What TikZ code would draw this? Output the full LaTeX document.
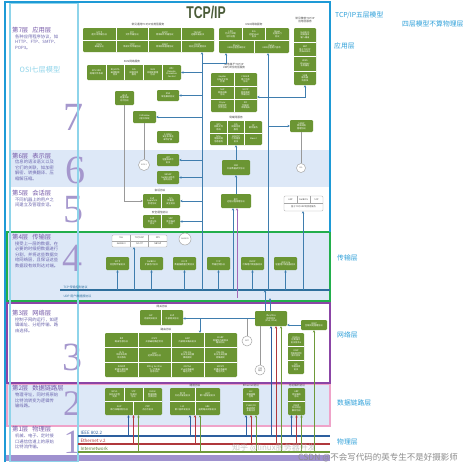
\documentclass[tikz,border=0pt]{standalone}
\usepackage{fontspec}
\usepackage{graphicx}
\setmainfont{Noto Sans CJK SC}
\newfontfamily\numfont{Liberation Serif}
\newfontfamily\titlefont{Liberation Sans}
\usetikzlibrary{arrows.meta}
\definecolor{gbx}{HTML}{6B9533}
\definecolor{lband}{HTML}{DDE8F7}
\definecolor{bluebd}{HTML}{1E9AD6}
\definecolor{osic}{HTML}{8ED4EA}
\definecolor{greenbd}{HTML}{22AE4C}
\definecolor{purplebd}{HTML}{8B45A6}
\definecolor{pinkbd}{HTML}{EFA3C9}
\definecolor{barc}{HTML}{9F91CF}
\definecolor{numc}{HTML}{A597CD}
\definecolor{ltitle}{HTML}{7558A8}
\definecolor{lbody}{HTML}{6C66AE}
\definecolor{rlab}{HTML}{2C9FD9}
\definecolor{connc}{HTML}{3F7DAE}
\definecolor{tcpc}{HTML}{2E6E9C}
\definecolor{physb}{HTML}{2D5F9E}
\definecolor{physr}{HTML}{B0383C}
\definecolor{physg}{HTML}{6E9A3A}
\definecolor{circd}{HTML}{A8A8A8}
\definecolor{titc}{HTML}{4B5C39}
\def\celltc{white}
\def\celllc{white}
\newcommand\gbox[5]{\node[gboxst, minimum width={(#4-#2)*1pt}, minimum height={(#5-#3)*1pt}] (#1) at ({(#2+#4)/2},{(#3+#5)/2}) {};}
\newcommand\wbox[5]{\node[wboxst, minimum width={(#4-#2)*1pt}, minimum height={(#5-#3)*1pt}] (#1) at ({(#2+#4)/2},{(#3+#5)/2}) {};}
\newcommand\cells[8]{%
  \pgfmathsetmacro\cwid{(#4-#2)/#6}%
  \pgfmathsetmacro\chgt{(#5-#3)/#7}%
  \pgfmathtruncatemacro\ncm{#6-1}%
  \pgfmathtruncatemacro\nrm{#7-1}%
  \ifnum\ncm>0
    \foreach \cI in {1,...,\ncm}{\draw[cellline] ({#2+\cI*\cwid},#3) -- ({#2+\cI*\cwid},#5);}%
  \fi
  \ifnum\nrm>0
    \foreach \rI in {1,...,\nrm}{\draw[cellline] (#2,{#3+\rI*\chgt}) -- (#4,{#3+\rI*\chgt});}%
  \fi
  \pgfmathsetmacro\twid{\cwid-0.8}%
  \foreach \tx [count=\kI from 0] in {#8}{%
    \pgfmathtruncatemacro\cCol{mod(\kI,#6)}%
    \pgfmathtruncatemacro\rRow{div(\kI,#6)}%
    \node[celltxt, text width=\twid pt] (#1-\kI) at ({#2+(\cCol+0.5)*\cwid},{#3+(\rRow+0.5)*\chgt}) {\tx};%
  }%
}
\begin{document}
\begin{tikzpicture}[x=1pt,y=-1pt,
 gboxst/.style={fill=gbx, rounded corners=1.2pt, inner sep=0pt, outer sep=0pt},
 wboxst/.style={fill=white, draw=circd, line width=0.4pt, rounded corners=1.2pt, inner sep=0pt, outer sep=0pt},
 celltxt/.style={text=\celltc, font=\fontsize{2.2}{2.5}\selectfont, align=center, inner sep=0pt},
 cellline/.style={draw=\celllc, line width=0.35pt},
 grp/.style={font=\fontsize{2.7}{3.1}\selectfont, text=black!75, inner sep=0pt, align=center},
 circ/.style={circle, draw=circd, fill=white, line width=0.5pt, inner sep=0pt, font=\fontsize{2}{2.3}\selectfont, text=black!60, align=center},
 conn/.style={draw=connc, line width=0.7pt, -{Stealth[length=2.6pt,width=2.4pt]}},
 gline/.style={draw=black!40, line width=0.5pt},
 ltit/.style={anchor=west, text=ltitle, font=\fontsize{6.3}{7}\selectfont, inner sep=0pt},
 lbod/.style={anchor=north west, text=lbody, font=\fontsize{4.3}{5.5}\selectfont, align=left, inner sep=0pt},
 bignum/.style={text=numc, font=\numfont\fontsize{40}{40}\selectfont, inner sep=0pt},
 rl/.style={anchor=west, text=rlab, font=\fontsize{6.8}{7.5}\selectfont, inner sep=0pt},
 physl/.style={anchor=south west, font=\fontsize{4.5}{5}\selectfont, inner sep=0.3pt},
 tcpl/.style={anchor=south west, font=\fontsize{3}{3.5}\selectfont, text=tcpc, inner sep=0.3pt},
 upB/.style={draw=physb, line width=0.9pt, -{Stealth[length=2.6pt,width=2.4pt]}},
 upR/.style={draw=physr, line width=0.9pt, -{Stealth[length=2.6pt,width=2.4pt]}},
 upG/.style={draw=physg, line width=0.9pt, -{Stealth[length=2.6pt,width=2.4pt]}}
]
\useasboundingbox (0,0) rectangle (474,469);
\fill[white] (0,0) rectangle (474,469);
% ---------- bands ----------
\fill[lband] (10,150) rectangle (330,187);
\draw[greenbd, line width=2pt, fill=lband] (7,232) rectangle (330,300.5);
\draw[purplebd, line width=2pt] (7,302.5) rectangle (330,383);
\draw[pinkbd, line width=1.5pt, fill=lband] (7,384.5) rectangle (330,426);
\fill[barc] (5,455) rectangle (330,461);
\draw[bluebd, line width=2pt] (5,462) -- (5,2) -- (330,2) -- (330,232);
% ---------- big numerals ----------
\node[bignum] (n7) at (73,117) {7};
\node[bignum] (n6) at (75,170) {6};
\node[bignum] (n5) at (73,210) {5};
\node[bignum] (n4) at (72,258) {4};
\node[bignum] (n3) at (72,357) {3};
\node[bignum, font=\numfont\fontsize{36}{36}\selectfont] (n2) at (72,404) {2};
\node[bignum, font=\numfont\fontsize{34}{34}\selectfont] (n1) at (72,442) {1};
\draw[osic, line width=1.2pt] (10,3.5) rectangle (78,461.5);
% ---------- layer texts ----------
\node[ltit] (t7) at (12,30) {第7层\hspace{4pt}应用层};
\node[lbod] (b7) at (15,34.5) {各种应用程序协议，如\\HTTP、FTP、SMTP、\\POP3。};
\node[text=osic, font=\fontsize{7.2}{8}\selectfont, inner sep=0pt] (osi) at (40,70) {OSI七层模型};
\node[ltit] (t6) at (12,156) {第6层\hspace{4pt}表示层};
\node[lbod] (b6) at (15,160) {信息的语法语义以及\\它们的关联，如加密\\解密、转换翻译、压\\缩解压缩。};
\node[ltit] (t5) at (12,193) {第5层\hspace{4pt}会话层};
\node[lbod] (b5) at (15,197.5) {不同机器上的用户之\\间建立及管理会话。};
\node[ltit] (t4) at (12,237) {第4层\hspace{4pt}传输层};
\node[lbod] (b4) at (15,241.5) {接受上一层的数据，在\\必要的时候把数据进行\\分割，并将这些数据交\\给网络层，且保证这些\\数据段有效到达对端。};
\node[ltit] (t3) at (12,313) {第3层\hspace{4pt}网络层};
\node[lbod] (b3) at (15,317.5) {控制子网的运行，如逻\\辑编址、分组传输、路\\由选择。};
\node[ltit] (t2) at (12,388.5) {第2层\hspace{4pt}数据链路层};
\node[lbod] (b2) at (15,393) {物理寻址，同时将原始\\比特流转变为逻辑传\\输线路。};
\node[ltit] (t1) at (12,429.5) {第1层\hspace{4pt}物理层};
\node[lbod] (b1) at (15,434) {机械、电子、定时接\\口通信信道上的原始\\比特流传输。};
% ---------- right labels ----------
\node[rl] (r0) at (335,15) {TCP/IP五层模型};
\node[rl] (r00) at (402,24) {四层模型不算物理层};
\node[rl] (r7) at (334,46) {应用层};
\node[rl] (r4) at (337,258) {传输层};
\node[rl] (r3) at (337,335) {网络层};
\node[rl] (r2) at (337,403) {数据链路层};
\node[rl] (r1) at (337,442) {物理层};
% ---------- title ----------
\node[font=\titlefont\bfseries\fontsize{17}{17}\selectfont, text=titc, inner sep=0pt] (title) at (206,12.5) {\scalebox{0.72}[1]{TCP/IP}};
% ---------- layer 7 ----------
\node[grp] (lA) at (148,24.5) {常见通用TCP/IP应用层服务};
\gbox{A}{83}{28}{214}{52}
\cells{A}{83}{28}{214}{52}{4}{2}{{HTTP\\超文本传输协议},{FTP\\文件传输协议},{SMTP\\简单邮件传输协议},{TELNET\\远程终端协议},{POP3\\邮局协议},{TFTP\\简单文件传输协议},{SNMP\\简单网络管理协议},{DHCP\\动态主机配置协议}}
\node[grp] (lB) at (254,24.5) {UNIX网络服务};
\gbox{B}{219}{28}{289}{53}
\cells{Ba}{219}{28}{289}{40.5}{3}{1}{{LPR\\行式打印机\\守护进程},{Rsh\\远程Shell\\协议},{Rexec\\远程执行\\协议}}
\cells{Bb}{219}{40.5}{289}{53}{2}{1}{{Rlogin\\UNIX远程登录协议},{Rwho\\UNIX远程用户查询}}
\draw[cellline] (219,40.5) -- (289,40.5);
\node[grp] (lC) at (305,20) {常见微软TCP/IP\\应用层服务};
\gbox{C}{294}{28}{316}{85}
\cells{C}{294}{28}{316}{85}{1}{4}{{NetBIOS\\网络基本\\输入输出},{NBT\\基于TCP/IP\\的NetBIOS},{WINS\\Windows\\名称服务},{SMB\\服务器\\消息块}}
\node[grp] (lD) at (132,61.5) {SUN网络服务};
\gbox{D}{87}{65}{181}{80}
\cells{D}{87}{65}{181}{80}{5}{1}{{NFS XDR\\网络文件系统},{RQUOTA\\磁盘配额\\协议},{NIS\\网络信息\\服务},{NLM\\网络锁管理\\协议},{RPC\\Remote\\Procedure\\Control}}
\node[grp] (lE) at (234,66) {其他基于TCP/IP\\UDP/IP应用层服务};
\gbox{E}{211}{73}{257}{112}
\cells{E}{211}{73}{257}{112}{2}{3}{{Gopher\\分布式文档\\检索},{FINGER\\用户信息\\协议},{NLP\\网络加载\\协议},{NNTP\\网络新闻\\传输协议},{Rsync\\远程同步\\文件协议},{IRC\\互联网\\中继聊天}}
\gbox{F}{157}{90}{179}{101}
\cells{F}{157}{90}{179}{101}{1}{1}{{DNS\\域名解析协议}}
\gbox{G}{115}{91}{134}{105}
\cells{G}{115}{91}{134}{105}{1}{1}{{LDAP\\轻量目录\\访问协议}}
\gbox{H}{133}{111}{156}{123}
\cells{H}{133}{111}{156}{123}{1}{1}{{X-Window\\X窗口系统}}
\node[grp] (lI) at (236,117.5) {局域网服务};
\gbox{I}{210}{121}{262}{145}
\cells{I}{210}{121}{262}{145}{3}{2}{{NFS\\网络文件\\系统},{NIS\\网络信息\\服务},{YP\\黄页服务},{NIS+\\增强网络\\信息服务},{BOOTP\\引导程序\\协议},{Mount}}
\gbox{J}{290}{120}{313}{132}
\cells{J}{290}{120}{313}{132}{1}{1}{{SNMP\\简单网络\\管理协议}}
\gbox{K}{157}{131}{179}{143}
\cells{K}{157}{131}{179}{143}{1}{1}{{S-MIME\\安全多用途\\邮件扩展}}
% ---------- layer 6 ----------
\gbox{L}{157}{154}{179}{166}
\cells{L}{157}{154}{179}{166}{1}{1}{{LPP\\轻量级表示\\协议}}
\gbox{M}{157}{171}{179}{184}
\cells{M}{157}{171}{179}{184}{1}{1}{{NBSSP\\NetBIOS会话\\服务协议}}
\gbox{N}{222}{160}{250}{175}
\cells{N}{222}{160}{250}{175}{1}{1}{{XDR\\外部数据表示协议}}
\node[circ, minimum size=11pt] (c1) at (144,165) {ASN.1};
\node[circ, minimum size=9pt] (c2) at (301,168) {SSL};
% ---------- layer 5 ----------
\node[grp] (lO) at (160,190.5) {会话协议};
\gbox{O}{143}{194}{180}{208}
\cells{O}{143}{194}{180}{208}{2}{1}{{ASP\\AppleTalk\\会话协议},{TLS\\传输层\\安全协议}}
\node[grp] (lP) at (160,212) {安全通信协议};
\gbox{P}{143}{215}{180}{228}
\cells{P}{143}{215}{180}{228}{2}{1}{{SAP\\会话公告\\协议},{SDP\\会话描述\\协议}}
\gbox{Q}{221}{194}{251}{208}
\cells{Q}{221}{194}{251}{208}{1}{1}{{RPC\\远程过程调用协议}}
\wbox{R}{284}{196}{323}{211}
\wbox{TB}{112}{235}{167}{247}
\def\celltc{black!70}\def\celllc{black!35}
\cells{Ra}{284}{196}{323}{203.5}{3}{1}{{ASP},{NetBIOS},{SCP}}
\cells{Rb}{284}{203.5}{323}{211}{1}{1}{{基于TCP/UDP的会话服务}}
\draw[cellline] (284,203.5) -- (323,203.5);
\cells{TB}{112}{235}{167}{247}{3}{2}{{SSL},{TCP/UDP},{SPX},{NetBEUI},{ISO-TP},{NBSSP}}
\def\celltc{white}\def\celllc{white}
% ---------- layer 4 ----------
\node[circ, minimum size=12pt] (c3) at (185,239) {NetBIOS};
\gbox{t1}{106}{257}{129}{270}
\cells{t1}{106}{257}{129}{270}{1}{1}{{SCTP\\流控制传输协议}}
\gbox{t2}{140}{257}{163}{270}
\cells{t2}{140}{257}{163}{270}{1}{1}{{NetBEUI\\扩展用户接口}}
\gbox{t3}{173}{257}{196}{270}
\cells{t3}{173}{257}{196}{270}{1}{1}{{DCCP\\数据报拥塞控制协议}}
\gbox{t4}{207}{257}{230}{270}
\cells{t4}{207}{257}{230}{270}{1}{1}{{TCP\\传输控制协议}}
\gbox{t5}{241}{257}{264}{270}
\cells{t5}{241}{257}{264}{270}{1}{1}{{RUDP\\可靠用户数据报协议}}
\gbox{t6}{274}{257}{297}{270}
\cells{t6}{274}{257}{297}{270}{1}{1}{{UDP-Lite\\轻量用户数据报协议}}
\coordinate (tcpL) at (60,290);
\coordinate (tcpR) at (330,290);
\coordinate (udpL) at (60,298);
\draw[tcpc, line width=1.3pt] (tcpL) -- (tcpR);
\node[tcpl] (ltcp) at (63,289.3) {TCP\ 传输控制协议};
\node[tcpl] (ludp) at (63,298.3) {UDP\ 用户数据报协议};
\foreach \bx in {t1,t2,t3,t4,t5,t6}{\draw[conn] (\bx.south |- tcpL) -- (\bx.south);}
\draw[conn] ([xshift=-5.5pt]TB.south |- tcpL) -- ([xshift=-5.5pt]TB.south);
% long verticals
\coordinate (v202) at (202,290);
\coordinate (v268) at (268,290);
\draw[conn] (v202) -- (v202 |- A.south);
\draw[conn] (v268) -- (v268 |- B.south);
\coordinate (j1) at (202,63);
\draw[conn] (j1) -| ([xshift=7pt]B.south west);
\foreach \bx in {D,F,H,L,M,O,P}{\draw[conn] (v202 |- \bx.east) -- (\bx.east);}
\coordinate (j2) at (268,97);
\draw[conn] (j2) -- (j2 -| E.east);
\draw[conn] (j2) -| (C.south);
\draw[conn] (v268 |- J.west) -- (J.west);
\draw[conn] ([xshift=-3pt]Q.south |- tcpL) -- ([xshift=-3pt]Q.south);
\draw[conn, draw=purplebd!80] ([xshift=1pt]Q.south |- udpL) -- ([xshift=1pt]Q.south);
\draw[conn] ([xshift=-0.5pt]R.south |- tcpL) -- ([xshift=-0.5pt]R.south);
\draw[conn] (Q.north) -- (N.south);
\draw[conn] (N.north) -- (I.south);
\draw[gline] (c1 |- H.south) -- (c1.north);
\draw[gline] (c2 |- J.south) -- (c2.north);
\draw[gline, -{Stealth[length=2.4pt,width=2.2pt]}] (G.south) |- (O.west);
% ---------- layer 3 ----------
\node[grp] (lS) at (162,306.5) {网关协议};
\gbox{S}{140}{310}{183}{325}
\cells{S}{140}{310}{183}{325}{2}{1}{{IGP\\内部网关协议},{EGP\\外部网关协议}}
\node[grp] (lT) at (166,329.5) {路由协议};
\gbox{T}{105}{333}{237}{377}
\cells{T}{105}{333}{237}{377}{4}{3}{{RIP\\路由信息协议},{OSPF\\开放最短路径优先},{IGRP\\内部网关路由协议},{EIGRP\\增强型内部网关\\路由协议},{IS-IS\\中间系统到\\中间系统},{BGP\\边界网关协议},{PIM-SM\\协议无关组播\\稀疏模式},{PIM-DM\\协议无关组播\\密集模式},{DVMRP\\距离矢量组播\\路由协议},{RIPng for IPv6\\下一代路由\\信息协议},{OSPFv3\\IPv6开放最短\\路径优先},{MOSPF\\组播开放最短\\路径优先}}
\gbox{U}{255}{311}{287}{326}
\cells{U}{255}{311}{287}{326}{1}{1}{{IPv4/IPv6\\网际协议\\(IPv4, IPv6)}}
\gbox{V}{301}{320}{327}{330}
\cells{V}{301}{320}{327}{330}{1}{1}{{IGMP\\互联网组管理协议}}
\gbox{W}{288}{333}{304}{374}
\cells{W}{288}{333}{304}{374}{1}{3}{{ICMPv6\\控制报文\\协议版本6},{ICMP\\互联网控制\\报文协议},{ND\\邻居发现\\协议}}
\node[circ, minimum size=10pt] (c4) at (247,341) {NAT};
\node[circ, minimum size=10pt] (c5) at (260,370) {子网\\掩码};
\draw[conn] (U.west) -- (U.west -| S.east);
\coordinate (j3) at (200,318.5);
\draw[conn] (j3) -- (j3 |- T.north);
\draw[gline] (c4.north) -- (c4 |- U.west);
\draw[gline] (c5.north) -- (c5 |- U.south);
\draw[conn] (V.west) -- (V.west -| U.east);
\draw[conn] ([xshift=-6pt]U.north) -- ([xshift=-6pt]U.north |- tcpL);
\draw[conn] ([xshift=-1pt]U.north) -- ([xshift=-1pt]U.north |- udpL);
% ---------- layer 2 ----------
\gbox{X1}{105}{388}{162}{415}
\cells{X1a}{105}{388}{162}{401.5}{3}{1}{{MPLS\\多协议标签\\交换},{STP\\生成树\\协议},{DLSW\\数据链路\\交换协议}}
\cells{X1b}{105}{401.5}{162}{415}{2}{1}{{SLIP\\串行线路网际协议},{PPP\\点对点协议}}
\draw[cellline] (105,401.5) -- (162,401.5);
\node[grp] (lX2) at (195,385.5) {隧道协议};
\gbox{X2}{170}{388}{220}{415}
\cells{X2}{170}{388}{220}{415}{2}{2}{{PPTP\\点对点隧道协议},{L2TP\\第二层隧道协议},{L2F\\第二层转发协议},{GRE\\通用路由封装协议}}
\node[grp] (lX3) at (251,385.5) {Ethernet协议};
\gbox{X3}{243}{388}{259}{415}
\cells{X3}{243}{388}{259}{415}{1}{2}{{LLC\\逻辑链路\\控制},{CSMA/CD\\载波侦听\\多路访问}}
\node[grp] (lX4) at (297,385.5) {地址解析协议};
\gbox{X4}{288}{388}{305}{415}
\cells{X4}{288}{388}{305}{415}{1}{2}{{ARP\\地址解析\\协议},{RARP\\反向地址\\解析协议}}
% ---------- layer 1 ----------
\coordinate (ieeeL) at (78,436);
\coordinate (ieeeR) at (330,436);
\coordinate (ethL) at (78,444);
\coordinate (ethR) at (330,444);
\coordinate (inetL) at (78,452);
\coordinate (inetR) at (330,452);
\draw[physb, line width=1.8pt] (ieeeL) -- (ieeeR);
\draw[physr, line width=1.8pt] (ethL) -- (ethR);
\draw[physg, line width=1.8pt] (inetL) -- (inetR);
\node[physl, text=physb] (lieee) at (80,435) {IEEE 802.2};
\node[physl, text=physr] (leth) at (80,443) {Ethernet v.2};
\node[physl, text=physg!80!black] (linet) at (80,451) {Internetwork};
\foreach \bx in {X1,X2,X3,X4}{
  \draw[upB] ([xshift=-5pt]\bx.south |- ieeeL) -- ([xshift=-5pt]\bx.south);
  \draw[upR] (\bx.south |- ethL) -- (\bx.south);
  \draw[upG] ([xshift=5pt]\bx.south |- inetL) -- ([xshift=5pt]\bx.south);
}
\draw[upB] (U.south |- ieeeL) -- (U.south);
\draw[upR] ([xshift=5pt]U.south |- ethL) -- ([xshift=5pt]U.south);
\draw[upG] ([xshift=10pt]U.south |- inetL) -- ([xshift=10pt]U.south);
\draw[upG] (V.south |- inetL) -- (V.south);
% ---------- watermarks ----------
\node[text=black!30, opacity=0.7, font=\fontsize{8}{9}\selectfont, inner sep=0pt] (wm1) at (274,448) {知乎 @linux服务器开发};
\node[text=black!45, font=\fontsize{8.5}{9.5}\selectfont, inner sep=0pt] (wm2) at (378,458) {CSDN @不会写代码的英专生不是好摄影师};
\end{tikzpicture}
\end{document}
